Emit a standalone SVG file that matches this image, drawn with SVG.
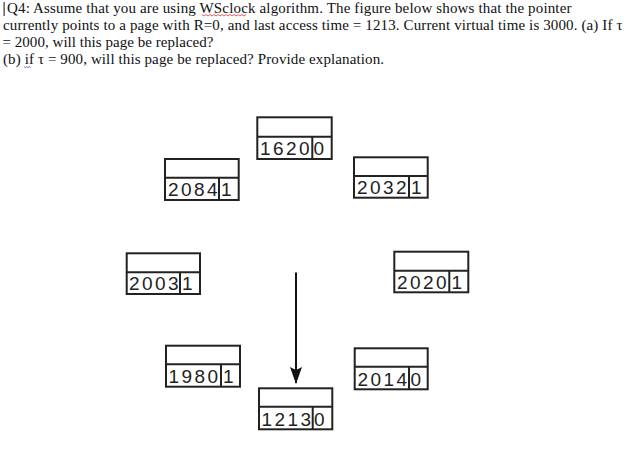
<svg xmlns="http://www.w3.org/2000/svg" width="634" height="454" viewBox="0 0 634 454">
<style>
.q{font-family:"Liberation Serif","Times New Roman",serif;font-size:15px;fill:#111}
.box{fill:#fff;stroke:#222;stroke-width:2}
.ln{stroke:#222;stroke-width:2}
.n{font-family:"Liberation Sans",Arial,sans-serif;font-size:19px;fill:#222}
.conn{stroke:#111;stroke-width:2;fill:none}
</style>
<defs>
<marker id="ah" viewBox="0 0 17 12" refX="16" refY="6" markerWidth="17" markerHeight="12" markerUnits="userSpaceOnUse" orient="auto">
<path d="M0,0 L3,6 L0,12 L17,6 Z" fill="#111"/>
</marker>
</defs>
<rect width="634" height="454" fill="#fff"/>
<g id="question">
<rect x="3.6" y="2" width="1" height="14" fill="#111"/>
<text class="q" x="7" y="12.5" textLength="564.5" lengthAdjust="spacing">Q4: Assume that you are using WSclock algorithm. The figure below shows that the pointer</text>
<text class="q" x="3" y="29.5" textLength="619.5" lengthAdjust="spacing">currently points to a page with R=0, and last access time = 1213. Current virtual time is 3000. (a) If τ</text>
<text class="q" x="2.5" y="46.5" textLength="211" lengthAdjust="spacing">= 2000, will this page be replaced?</text>
<text class="q" x="3" y="64" textLength="381" lengthAdjust="spacing">(b) if τ = 900, will this page be replaced? Provide explanation.</text>
<path d="M202,14.5 l2,1.5 l2,-1.5 l2,1.5 l2,-1.5 l2,1.5 l2,-1.5 l2,1.5 l2,-1.5 l2,1.5 l2,-1.5 l2,1.5 l2,-1.5 l2,1.5 l2,-1.5 l2,1.5 l2,-1.5 l2,1.5 l2,-1.5 l2,1.5 l2,-1.5 l2,1.5 l2,-1.5" fill="none" stroke="#d33" stroke-width="0.8"/>
<path d="M24,66.5 l1.3,1.2 l1.3,-1.2 l1.3,1.2 l1.3,-1.2 l1.3,1.2" fill="none" stroke="#44c" stroke-width="0.8"/>
</g>
<g id="connectors">
<line class="conn" x1="296" y1="272.5" x2="296" y2="383" marker-end="url(#ah)"/>
</g>
<g id="node-1620">
<rect class="box" x="257.3" y="117.3" width="74.4" height="41.7"/>
<line class="ln" x1="257.3" y1="136.7" x2="331.7" y2="136.7"/>
<line class="ln" x1="312.3" y1="136.7" x2="312.3" y2="159"/>
<text class="n" x="260" y="154.5" textLength="49.5" lengthAdjust="spacing">1620</text>
<text class="n" x="313.5" y="154.5">0</text>
</g>
<g id="node-2084">
<rect class="box" x="165" y="159" width="73.7" height="41"/>
<line class="ln" x1="165" y1="177.7" x2="238.7" y2="177.7"/>
<line class="ln" x1="219" y1="177.7" x2="219" y2="200"/>
<text class="n" x="168" y="195.5" textLength="49.5" lengthAdjust="spacing">2084</text>
<text class="n" x="221" y="195.5">1</text>
</g>
<g id="node-2032">
<rect class="box" x="354" y="157.3" width="73.7" height="40.4"/>
<line class="ln" x1="354" y1="176" x2="427.7" y2="176"/>
<line class="ln" x1="409" y1="176" x2="409" y2="197.7"/>
<text class="n" x="357" y="193.5" textLength="49.5" lengthAdjust="spacing">2032</text>
<text class="n" x="411" y="193.5">1</text>
</g>
<g id="node-2003">
<rect class="box" x="126.7" y="253.3" width="73.3" height="40.7"/>
<line class="ln" x1="126.7" y1="272.3" x2="200" y2="272.3"/>
<line class="ln" x1="180" y1="272.3" x2="180" y2="294"/>
<text class="n" x="129" y="290" textLength="49.5" lengthAdjust="spacing">2003</text>
<text class="n" x="182" y="290">1</text>
</g>
<g id="node-2020">
<rect class="box" x="394.3" y="251.7" width="74" height="40.6"/>
<line class="ln" x1="394.3" y1="270.7" x2="468.3" y2="270.7"/>
<line class="ln" x1="449.3" y1="270.7" x2="449.3" y2="292.3"/>
<text class="n" x="397" y="288.5" textLength="49.5" lengthAdjust="spacing">2020</text>
<text class="n" x="451.5" y="288.5">1</text>
</g>
<g id="node-1980">
<rect class="box" x="166" y="345.7" width="74" height="41"/>
<line class="ln" x1="166" y1="364.3" x2="240" y2="364.3"/>
<line class="ln" x1="221" y1="364.3" x2="221" y2="386.7"/>
<text class="n" x="168.5" y="382.5" textLength="49.5" lengthAdjust="spacing">1980</text>
<text class="n" x="223" y="382.5">1</text>
</g>
<g id="node-2014">
<rect class="box" x="354.7" y="348.3" width="73" height="41"/>
<line class="ln" x1="354.7" y1="366.7" x2="427.7" y2="366.7"/>
<line class="ln" x1="409" y1="366.7" x2="409" y2="389.3"/>
<text class="n" x="357.5" y="385.5" textLength="49.5" lengthAdjust="spacing">2014</text>
<text class="n" x="410.5" y="385.5">0</text>
</g>
<g id="node-1213">
<rect class="box" x="259" y="388.3" width="73.3" height="41"/>
<line class="ln" x1="259" y1="406.7" x2="332.3" y2="406.7"/>
<line class="ln" x1="312.7" y1="406.7" x2="312.7" y2="429.3"/>
<text class="n" x="261.5" y="425.5" textLength="49.5" lengthAdjust="spacing">1213</text>
<text class="n" x="314" y="425.5">0</text>
</g>
</svg>
